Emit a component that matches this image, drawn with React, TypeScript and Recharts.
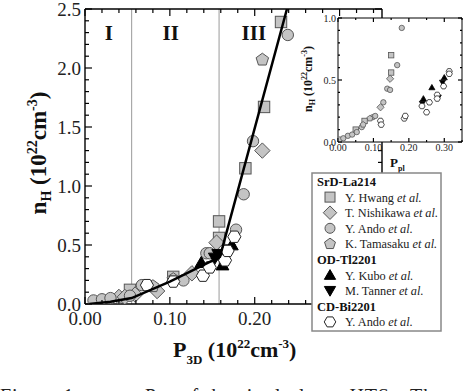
import React from "react";
import { ScatterChart, Scatter, XAxis, YAxis, ReferenceLine, ReferenceDot, CartesianGrid } from "recharts";

type Pt = { x: number; y: number };
type Kind = "square" | "diamond" | "circle" | "pentagon" | "up" | "down" | "hex";

const p = (x: number, y: number): Pt => ({ x, y });

// main panel: n_H vs P_3D
const hwang = [p(0.053, 0.12), p(0.104, 0.23), p(0.158, 0.56), p(0.158, 0.7), p(0.189, 1.15), p(0.211, 1.67), p(0.231, 2.39)];
const nishikawa = [p(0.04, 0.06), p(0.047, 0.06), p(0.059, 0.08), p(0.085, 0.11), p(0.126, 0.26), p(0.155, 0.52), p(0.209, 1.3)];
const andoLa = [p(0.01, 0.03), p(0.02, 0.04), p(0.03, 0.05), p(0.053, 0.07), p(0.067, 0.16), p(0.116, 0.2), p(0.143, 0.43), p(0.147, 0.43), p(0.178, 0.63), p(0.187, 0.93), p(0.198, 1.38), p(0.239, 2.28)];
const tamasaku = [p(0.08, 0.15), p(0.104, 0.21), p(0.209, 2.07)];
const kubo = [p(0.137, 0.35), p(0.162, 0.33), p(0.173, 0.5)];
const tanner = [p(0.153, 0.39), p(0.157, 0.42), p(0.17, 0.46)];
const andoBi = [p(0.073, 0.16), p(0.104, 0.19), p(0.139, 0.24), p(0.147, 0.31), p(0.165, 0.37), p(0.168, 0.45), p(0.176, 0.57)];
const fitLine = [p(0.005, 0.0), p(0.03, 0.02), p(0.055, 0.05), p(0.1, 0.19), p(0.159, 0.4), p(0.238, 2.5)];

// inset: n_H vs P_pl
const insetHwang = [p(0.05, 0.1), p(0.075, 0.17), p(0.15, 0.56), p(0.15, 0.7)];
const insetNishikawa = [p(0.12, 0.28), p(0.147, 0.51)];
const insetAndoLa = [p(0.005, 0.02), p(0.015, 0.03), p(0.028, 0.05), p(0.04, 0.06), p(0.053, 0.08), p(0.067, 0.12), p(0.098, 0.2), p(0.105, 0.21), p(0.128, 0.32), p(0.139, 0.43), p(0.147, 0.42), p(0.167, 0.62), p(0.18, 0.92)];
const insetTamasaku = [p(0.071, 0.14), p(0.09, 0.19)];
const insetKubo = [p(0.241, 0.35), p(0.265, 0.44), p(0.3, 0.52)];
const insetTanner = [p(0.238, 0.31), p(0.283, 0.36), p(0.295, 0.48)];
const insetAndoBi = [p(0.12, 0.17), p(0.122, 0.14), p(0.187, 0.19), p(0.19, 0.21), p(0.237, 0.29), p(0.25, 0.24), p(0.258, 0.32), p(0.28, 0.38), p(0.28, 0.35), p(0.298, 0.45), p(0.314, 0.57), p(0.314, 0.55)];

const regionBounds = [0.055, 0.158];
const regionLabels = [p(0.028, 2.3), p(0.101, 2.3), p(0.199, 2.3)];
const regionNames = ["I", "II", "III"];

const mainXTicks = [0, 0.02, 0.04, 0.06, 0.08, 0.1, 0.12, 0.14, 0.16, 0.18, 0.2, 0.22, 0.24, 0.26, 0.28, 0.3, 0.32, 0.34];
const mainYTicks = [0, 0.1, 0.2, 0.3, 0.4, 0.5, 0.6, 0.7, 0.8, 0.9, 1, 1.1, 1.2, 1.3, 1.4, 1.5, 1.6, 1.7, 1.8, 1.9, 2, 2.1, 2.2, 2.3, 2.4, 2.5];
const insetXTicks = [0, 0.05, 0.1, 0.15, 0.2, 0.25, 0.3, 0.35];
const insetYTicks = [0, 0.1, 0.2, 0.3, 0.4, 0.5, 0.6, 0.7, 0.8, 0.9, 1];

const GRAY = "#c4c4c4";
const EDGE = "#555";
const SERIF = "Liberation Serif, Times New Roman, Times, serif";
const serifStyle = { fontFamily: SERIF };

const series = [
  { name: "Y. Hwang", kind: "square" as Kind, fill: GRAY, main: hwang, inset: insetHwang },
  { name: "T. Nishikawa", kind: "diamond" as Kind, fill: GRAY, main: nishikawa, inset: insetNishikawa },
  { name: "Y. Ando", kind: "circle" as Kind, fill: GRAY, main: andoLa, inset: insetAndoLa },
  { name: "K. Tamasaku", kind: "pentagon" as Kind, fill: GRAY, main: tamasaku, inset: insetTamasaku },
  { name: "Y. Kubo", kind: "up" as Kind, fill: "#000", main: kubo, inset: insetKubo },
  { name: "M. Tanner", kind: "down" as Kind, fill: "#000", main: tanner, inset: insetTanner },
  { name: "Y. Ando", kind: "hex" as Kind, fill: "#fff", main: andoBi, inset: insetAndoBi },
];

const legendGroups = [
  { title: "SrD-La214", items: [0, 1, 2, 3] },
  { title: "OD-Tl2201", items: [4, 5] },
  { title: "CD-Bi2201", items: [6] },
];

function poly(cx: number, cy: number, rad: number, n: number, start: number) {
  const pts: string[] = [];
  for (let i = 0; i < n; i++) {
    const a = ((start + (360 / n) * i) * Math.PI) / 180;
    pts.push(`${cx + rad * Math.cos(a)},${cy + rad * Math.sin(a)}`);
  }
  return pts.join(" ");
}

function Marker({ kind, cx, cy, r, fill, sw = 1 }: { kind: Kind; cx: number; cy: number; r: number; fill: string; sw?: number }) {
  const stroke = fill === "#000" ? "#000" : fill === "#fff" ? "#222" : EDGE;
  const common = { fill, stroke, strokeWidth: sw };
  switch (kind) {
    case "square":
      return <rect x={cx - r} y={cy - r} width={2 * r} height={2 * r} {...common} />;
    case "diamond":
      return <polygon points={poly(cx, cy, r * 1.35, 4, -90)} {...common} />;
    case "circle":
      return <circle cx={cx} cy={cy} r={r} {...common} />;
    case "pentagon":
      return <polygon points={poly(cx, cy, r * 1.15, 5, -90)} {...common} />;
    case "up":
      return <polygon points={poly(cx, cy + r * 0.2, r * 1.3, 3, -90)} {...common} />;
    case "down":
      return <polygon points={poly(cx, cy - r * 0.2, r * 1.3, 3, 90)} {...common} />;
    default:
      return <polygon points={poly(cx, cy, r * 1.15, 6, 0)} {...common} />;
  }
}

type Side = "bottom" | "top" | "left" | "right";
function makeTick(side: Side, step: number, major: number, minor: number, opts: { fmt?: (v: number) => string; size?: number; gap?: number } = {}) {
  return (props: any) => {
    const { x, y, payload } = props;
    const v = payload.value as number;
    const isMajor = Math.abs(v / step - Math.round(v / step)) < 1e-6;
    const len = isMajor ? major : minor;
    let x2 = x, y2 = y;
    if (side === "bottom") y2 = y - len;
    if (side === "top") y2 = y + len;
    if (side === "left") x2 = x + len;
    if (side === "right") x2 = x - len;
    const gap = opts.gap ?? 4;
    return (
      <g>
        <line x1={x} y1={y} x2={x2} y2={y2} stroke="#000" strokeWidth={1.2} />
        {isMajor && opts.fmt && side === "bottom" && (
          <text x={x} y={y + gap} dy="0.35em" textAnchor="middle" style={serifStyle} fontSize={opts.size} fill="#222">{opts.fmt(v)}</text>
        )}
        {isMajor && opts.fmt && side === "left" && (
          <text x={x - gap} y={y} dy="0.35em" textAnchor="end" style={serifStyle} fontSize={opts.size} fill="#222">{opts.fmt(v)}</text>
        )}
      </g>
    );
  };
}

function MainChart() {
  return (
    <ScatterChart width={474} height={391} margin={{ top: 4, right: 82, bottom: 57, left: 45 }}>
      <XAxis dataKey="x" type="number" domain={[0, 0.35]} ticks={mainXTicks} interval={0} allowDataOverflow height={30}
        axisLine={{ stroke: "#000", strokeWidth: 1.4 }} tickLine={false} tickSize={0} tickMargin={0}
        tick={makeTick("bottom", 0.1, 7, 4, { fmt: (v) => v.toFixed(2), size: 19, gap: 14 })} />
      <XAxis xAxisId="top" orientation="top" dataKey="x" type="number" domain={[0, 0.35]} ticks={mainXTicks} interval={0} allowDataOverflow height={5}
        axisLine={{ stroke: "#000", strokeWidth: 1.4 }} tickLine={false} tickSize={0} tickMargin={0}
        tick={makeTick("top", 0.1, 7, 4)} />
      <YAxis dataKey="y" type="number" domain={[0, 2.5]} ticks={mainYTicks} interval={0} allowDataOverflow width={40}
        axisLine={{ stroke: "#000", strokeWidth: 1.4 }} tickLine={false} tickSize={0} tickMargin={0}
        tick={makeTick("left", 0.5, 7, 4, { fmt: (v) => v.toFixed(1), size: 19, gap: 4 })} />
      <YAxis yAxisId="right" orientation="right" dataKey="y" type="number" domain={[0, 2.5]} ticks={mainYTicks} interval={0} allowDataOverflow width={10}
        axisLine={{ stroke: "#000", strokeWidth: 1.4 }} tickLine={false} tickSize={0} tickMargin={0}
        tick={makeTick("right", 0.5, 7, 4)} />
      {regionBounds.map((b) => (
        <ReferenceLine key={b} x={b} stroke="#9a9a9a" strokeWidth={1} />
      ))}
      {regionLabels.map((pt, i) => (
        <ReferenceDot key={i} x={pt.x} y={pt.y} r={0} fill="none" stroke="none"
          label={{ value: regionNames[i], position: "center", style: serifStyle, fontWeight: "bold", fontSize: 21, fill: "#111" }} />
      ))}
      {series.map((s, i) => (
        <Scatter key={i} data={s.main} isAnimationActive={false}
          shape={(pr: any) => <Marker kind={s.kind} cx={pr.cx} cy={pr.cy} r={5.7} fill={s.fill} />} />
      ))}
      <Scatter data={fitLine} isAnimationActive={false} line={{ stroke: "#000", strokeWidth: 2.5 }} shape={() => <g />} />
    </ScatterChart>
  );
}

function InsetChart() {
  return (
    <ScatterChart width={474} height={391} margin={{ top: 13, right: 7, bottom: 229, left: 308 }}>
      <CartesianGrid horizontal={false} vertical={false} fill="#fff" />
      <XAxis dataKey="x" type="number" domain={[0, 0.35]} ticks={insetXTicks} interval={0} allowDataOverflow height={20}
        axisLine={{ stroke: "#000", strokeWidth: 1 }} tickLine={false} tickSize={0} tickMargin={0}
        tick={makeTick("bottom", 0.1, 4, 2, { fmt: (v) => v.toFixed(2), size: 10, gap: 5 })} />
      <XAxis xAxisId="top" orientation="top" dataKey="x" type="number" domain={[0, 0.35]} ticks={insetXTicks} interval={0} allowDataOverflow height={5}
        axisLine={{ stroke: "#000", strokeWidth: 1 }} tickLine={false} tickSize={0} tickMargin={0}
        tick={makeTick("top", 0.1, 4, 2)} />
      <YAxis dataKey="y" type="number" domain={[0, 1]} ticks={insetYTicks} interval={0} allowDataOverflow width={30}
        axisLine={{ stroke: "#000", strokeWidth: 1 }} tickLine={false} tickSize={0} tickMargin={0}
        tick={makeTick("left", 0.5, 4, 2, { fmt: (v) => v.toFixed(1), size: 10, gap: 2 })} />
      <YAxis yAxisId="right" orientation="right" dataKey="y" type="number" domain={[0, 1]} ticks={insetYTicks} interval={0} allowDataOverflow width={5}
        axisLine={{ stroke: "#000", strokeWidth: 1 }} tickLine={false} tickSize={0} tickMargin={0}
        tick={makeTick("right", 0.5, 4, 2)} />
      {series.map((s, i) => (
        <Scatter key={i} data={s.inset} isAnimationActive={false}
          shape={(pr: any) => <Marker kind={s.kind} cx={pr.cx} cy={pr.cy} r={2.7} fill={s.fill} sw={0.8} />} />
      ))}
    </ScatterChart>
  );
}

function Overlay() {
  let row = 0;
  const rowY = (k: number) => 186 + k * 15.6;
  return (
    <svg width={474} height={391} style={{ position: "absolute", left: 0, top: 0, fontFamily: SERIF }}>
      {/* main axis titles */}
      <text transform="translate(46,153) rotate(-90)" textAnchor="middle" fontWeight="bold" fontSize={23} fill="#111">
        n<tspan fontSize={14} dy={5}>H</tspan>
        <tspan dy={-5}> (10</tspan>
        <tspan fontSize={14} dy={-9}>22</tspan>
        <tspan dy={9}>cm</tspan>
        <tspan fontSize={14} dy={-9}>-3</tspan>
        <tspan dy={9}>)</tspan>
      </text>
      <text x={173} y={357} fontWeight="bold" fontSize={22} fill="#111">
        P<tspan fontSize={13} dy={7}>3D</tspan>
        <tspan dy={-7}> (10</tspan>
        <tspan fontSize={13} dy={-9}>22</tspan>
        <tspan dy={9}>cm</tspan>
        <tspan fontSize={13} dy={-9}>-3</tspan>
        <tspan dy={9}>)</tspan>
      </text>
      {/* inset axis titles */}
      <text transform="translate(312,79) rotate(-90)" textAnchor="middle" fontWeight="bold" fontSize={12} fill="#111">
        n<tspan fontSize={8} dy={3}>H</tspan>
        <tspan dy={-3}> (10</tspan>
        <tspan fontSize={8} dy={-5}>22</tspan>
        <tspan dy={5}>cm</tspan>
        <tspan fontSize={8} dy={-5}>-3</tspan>
        <tspan dy={5}>)</tspan>
      </text>
      <text x={390} y={167} fontWeight="bold" fontSize={13} fill="#111">
        P<tspan fontSize={8} dy={4}>pl</tspan>
      </text>
      {/* legend */}
      <rect x={312} y={173} width={129} height={158} fill="#fff" stroke="#888" strokeWidth={1.5} />
      {legendGroups.map((g) => {
        const head = (
          <text key={g.title} x={317} y={rowY(row)} fontWeight="bold" fontSize={12.5} fill="#111">{g.title}</text>
        );
        row++;
        const items = g.items.map((idx) => {
          const s = series[idx];
          const y = rowY(row);
          row++;
          return (
            <g key={`${g.title}-${idx}`}>
              <Marker kind={s.kind} cx={330} cy={y - 4.5} r={5} fill={s.fill} />
              <text x={345} y={y} fontSize={12.3} fill="#222">
                {s.name} <tspan fontStyle="italic">et al.</tspan>
              </text>
            </g>
          );
        });
        return (
          <g key={g.title}>
            {head}
            {items}
          </g>
        );
      })}
      {/* caption, cut off by the page edge */}
      <text x={0} y={403} fontSize={20} fill="#222" textLength={443} lengthAdjust="spacing">
        Figure 1. n<tspan fontSize={13} dy={4}>H</tspan><tspan dy={-4}> vs. P</tspan><tspan fontSize={13} dy={4}>3D</tspan><tspan dy={-4}> of the single-layer HTSs. The</tspan>
      </text>
    </svg>
  );
}

export default function App() {
  return (
    <div style={{ position: "absolute", left: 0, top: 0, width: 474, height: 391, overflow: "hidden", background: "#fff" }}>
      <div style={{ position: "absolute", left: 0, top: 0 }}>
        <MainChart />
      </div>
      <div style={{ position: "absolute", left: 0, top: 0 }}>
        <InsetChart />
      </div>
      <Overlay />
    </div>
  );
}
